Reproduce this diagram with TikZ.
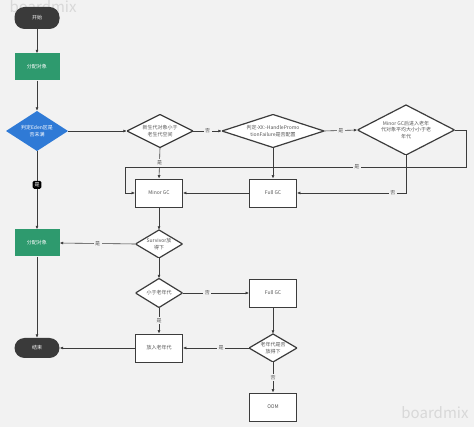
\documentclass[tikz,border=0pt]{standalone}
\usepackage{fontspec}
\setmainfont{Noto Sans CJK SC}
\usetikzlibrary{arrows.meta}
\definecolor{bgc}{HTML}{F2F2F2}
\definecolor{darkc}{HTML}{3A3A3A}
\definecolor{greenc}{HTML}{2E9A6E}
\definecolor{bluec}{HTML}{2F7AD6}
\definecolor{linec}{HTML}{3C3C3C}
\definecolor{txtc}{HTML}{555555}
\definecolor{wmc}{HTML}{D8D8D8}
\tikzset{
  every node/.style={font=\fontsize{5}{6.5}\selectfont, align=center},
  pill/.style={rectangle, rounded corners=10pt, fill=darkc, text=white, minimum width=45pt, minimum height=#1, inner sep=0pt},
  gbox/.style={rectangle, fill=greenc, text=white, minimum width=45pt, minimum height=27pt, inner sep=0pt},
  wbox/.style={rectangle, draw=linec, line width=0.8pt, fill=white, text=txtc, minimum width=47pt, minimum height=28pt, inner sep=0pt},
  dia/.style n args={3}{rectangle, minimum width=#1, minimum height=#2, inner sep=0pt, text=txtc,
    path picture={\filldraw[draw=linec, fill=#3, line width=1.2pt]
      (path picture bounding box.north) -- (path picture bounding box.east) --
      (path picture bounding box.south) -- (path picture bounding box.west) -- cycle;}},
  bdia/.style n args={2}{rectangle, minimum width=#1, minimum height=#2, inner sep=0pt, text=white,
    path picture={\fill[bluec]
      (path picture bounding box.north) -- (path picture bounding box.east) --
      (path picture bounding box.south) -- (path picture bounding box.west) -- cycle;}},
  conn/.style={draw=linec, line width=0.6pt, -{Latex[length=3.5pt,width=3pt]}},
  lbl/.style={fill=bgc, text=txtc, inner sep=1.5pt},
  blbl/.style={fill=black, text=white, rounded corners=1.5pt, inner sep=1.8pt},
  wm/.style={text=wmc, font=\fontsize{15}{15}\selectfont}
}
\begin{document}
\begin{tikzpicture}[x=1pt, y=-1pt]
\fill[bgc] (0,0) rectangle (474,427);
\useasboundingbox (0,0) rectangle (474,427);
\node[wm, anchor=west] (wm1) at (6,7) {boardmix};
\node[wm, anchor=east] (wm2) at (472,413) {boardmix};

\node[pill=22pt] (start) at (37,18) {开始};
\node[gbox] (alloc1) at (37,67) {分配对象};
\node[bdia={62pt}{40pt}] (d1) at (37,131) {判定Eden区是\\否未满};
\node[dia={66pt}{33pt}{white}] (d2) at (160,131) {新生代对象小于\\老生代空间};
\node[dia={102pt}{33pt}{white}] (d3) at (273,131) {判定-XX:-HandlePromo\\tionFailure是否配置};
\node[dia={97pt}{50pt}{white}] (d4) at (406,130) {Minor GC后进入老年\\代对象平均大小小于老\\年代};
\node[wbox] (minor) at (159,193) {Minor GC};
\node[wbox] (full1) at (273,193) {Full GC};
\node[dia={47pt}{28pt}{white}] (surv) at (159,244) {Survivor放\\得下};
\node[gbox] (alloc2) at (37,243) {分配对象};
\node[dia={47pt}{29pt}{white}] (less) at (159,293) {小于老年代};
\node[wbox] (full2) at (273,293) {Full GC};
\node[wbox] (put) at (159,348) {放入老年代};
\node[pill=20pt] (end) at (37,348) {结束};
\node[dia={48pt}{28pt}{white}] (d5) at (273,348) {老年代是否\\放得下};
\node[wbox] (oom) at (273,407) {OOM};

\coordinate (c1) at (466,167);
\coordinate (c2) at (125,167);

\draw[conn] (start) -- (alloc1);
\draw[conn] (alloc1) -- (d1.north);
\draw[conn] (d1.east) -- (d2.west);
\draw[conn] (d2.east) -- node[lbl]{否} (d3.west);
\draw[conn] (d3.east) -- node[lbl]{是} (d4.west);
\draw[conn] (d4.east) -| (c1) -- node[lbl, pos=0.32]{是} (c2) |- (minor.west);
\draw[conn] (d2.south) -- node[lbl]{是} (minor.north);
\draw[conn] (d3.south) -- (full1.north);
\draw[conn] (d4.south) |- node[lbl, pos=0.56]{否} (full1.east);
\draw[conn] (full1.west) -- (minor.east);
\draw[conn] (minor.south) -- (surv.north);
\draw[conn] (surv.west) -- node[lbl]{是} (alloc2.east);
\draw[conn] (d1.south) -- node[blbl, pos=0.43]{是} (alloc2.north);
\draw[conn] (alloc2.south) -- (end.north);
\draw[conn] (surv.south) -- (less.north);
\draw[conn] (less.east) -- node[lbl, pos=0.37]{否} (full2.west);
\draw[conn] (less.south) -- node[lbl]{是} (put.north);
\draw[conn] (put.west) -- (end.east);
\draw[conn] (full2.south) -- (d5.north);
\draw[conn] (d5.west) -- node[lbl, pos=0.42]{是} (put.east);
\draw[conn] (d5.south) -- node[lbl]{否} (oom.north);
\end{tikzpicture}
\end{document}
